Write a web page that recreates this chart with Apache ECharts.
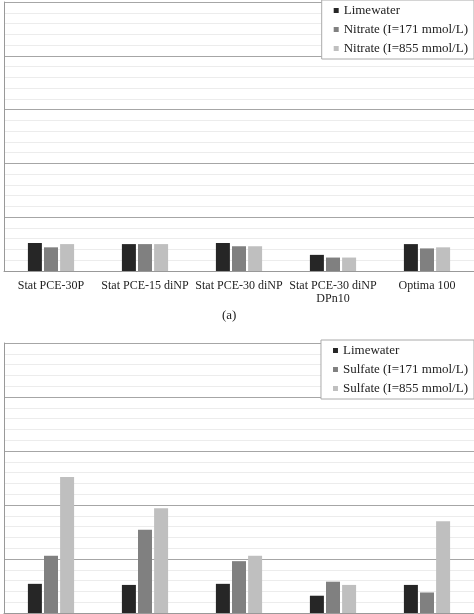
<!DOCTYPE html>
<html>
<head>
<meta charset="utf-8">
<script src="https://cdn.jsdelivr.net/npm/echarts@6/dist/echarts.min.js"></script>
<style>html,body{margin:0;padding:0;background:#fff}#main{width:474px;height:614px}</style>
</head>
<body>
<div id="main"></div>
<script>
var categories = ['Stat PCE-30P', 'Stat PCE-15 diNP', 'Stat PCE-30 diNP', 'Stat PCE-30 diNP\nDPn10', 'Optima 100'];
var namesA = ['Limewater', 'Nitrate (I=171 mmol/L)', 'Nitrate (I=855 mmol/L)'];
var namesB = ['Limewater', 'Sulfate (I=171 mmol/L)', 'Sulfate (I=855 mmol/L)'];
var limewaterA = [2.6, 2.5, 2.6, 1.5, 2.5];
var nitrate171 = [2.2, 2.5, 2.3, 1.25, 2.1];
var nitrate855 = [2.5, 2.5, 2.3, 1.25, 2.2];
var limewaterB = [2.7, 2.6, 2.7, 1.6, 2.6];
var sulfate171 = [5.3, 7.7, 4.8, 2.9, 1.9];
var sulfate855 = [12.6, 9.7, 5.3, 2.6, 8.5];
var colors = ['#262626', '#808080', '#bfbfbf'];
var font = 'Liberation Serif';

var myChart = echarts.init(document.getElementById('main'));

function yAxis(idx) {
    return {
        gridIndex: idx, type: 'value', min: 0, max: 25, interval: 5,
        axisLabel: { show: false }, axisTick: { show: false },
        axisLine: { show: true, lineStyle: { color: '#999' } },
        splitLine: { lineStyle: { color: '#a6a6a6', width: 1.2 } },
        minorTick: { show: false, splitNumber: 5 },
        minorSplitLine: { show: true, lineStyle: { color: '#ececec' } }
    };
}
function xAxis(idx, showLabel) {
    return {
        gridIndex: idx, type: 'category', data: categories,
        axisTick: { show: false },
        axisLine: { lineStyle: { color: '#999' } },
        axisLabel: { show: showLabel, interval: 0, color: '#222', fontFamily: font, fontSize: 12, lineHeight: 13 }
    };
}
function legend(names, top) {
    return {
        data: names, orient: 'vertical', right: 0, top: top,
        itemWidth: 5, itemHeight: 5, itemGap: 6, icon: 'rect',
        padding: [4, 6, 4, 12],
        backgroundColor: '#fff', borderColor: '#aaa', borderWidth: 1,
        textStyle: { fontFamily: font, fontSize: 13, color: '#222' }
    };
}
function bars(names, datas, idx) {
    return datas.map(function (d, i) {
        return {
            name: names[i], type: 'bar', xAxisIndex: idx, yAxisIndex: idx,
            data: d, barWidth: 14, barGap: '15%',
            itemStyle: { color: colors[i] }
        };
    });
}

option = {
    animation: false,
    grid: [
        { left: 4, right: 0, top: 2, height: 269 },
        { left: 4, right: 0, top: 343, height: 270 }
    ],
    title: { text: '(a)', left: 217, top: 304, textStyle: { fontFamily: font, fontSize: 13, fontWeight: 'normal', color: '#222' } },
    legend: [legend(namesA, 0), legend(namesB, 340)],
    xAxis: [xAxis(0, true), xAxis(1, false)],
    yAxis: [yAxis(0), yAxis(1)],
    series: bars(namesA, [limewaterA, nitrate171, nitrate855], 0)
        .concat(bars(namesB, [limewaterB, sulfate171, sulfate855], 1))
};
myChart.setOption(option);
</script>
</body>
</html>
